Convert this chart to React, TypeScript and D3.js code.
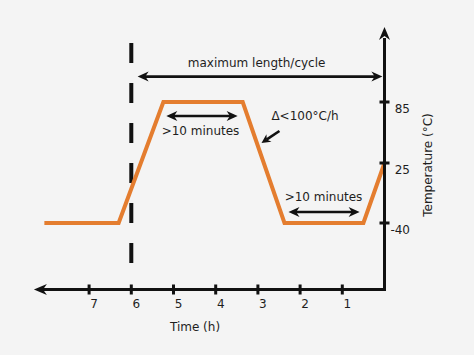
import React from "react";
import * as d3 from "d3";

const timeTicks = [7, 6, 5, 4, 3, 2, 1];
const tempTicks = [85, 25, -40];
const profileTime = [8.06, 6.3, 5.24, 3.36, 2.37, 0.5, 0];
const profileTemp = [-40, -40, 85, 85, -40, -40, 25];

const W = 474;
const H = 355;
const FONT = "DejaVu Sans, Verdana, sans-serif";
const ORANGE = "#e47d2f";
const INK = "#111";
const TEXT = "#1e1e1e";

function head(x: number, y: number, angleDeg: number, len = 11, half = 5) {
  // tip at (x,y), pointing along angle
  const a = (angleDeg * Math.PI) / 180;
  const c = Math.cos(a), s = Math.sin(a);
  const pt = (u: number, v: number) => [x + u * c - v * s, y + u * s + v * c];
  const p1 = pt(0, 0), p2 = pt(-len, -half), p3 = pt(-len * 0.7, 0), p4 = pt(-len, half);
  return `M${p1[0]},${p1[1]}L${p2[0]},${p2[1]}L${p3[0]},${p3[1]}L${p4[0]},${p4[1]}Z`;
}

export default function App() {
  const x = d3.scaleLinear().domain([0, 8]).range([384.5, 384.5 - 8 * 42.2]);
  const y = d3.scaleLinear().domain([-40, 25, 85]).range([223, 163, 102]);
  const xAxisY = 289.5;
  const yAxisX = x(0);

  const pts: [number, number][] = profileTime.map((t, i) => [t, profileTemp[i]]);
  const line = d3.line<[number, number]>().x((d) => x(d[0])).y((d) => y(d[1]));

  const hArrow = (t0: number, t1: number, temp: number, both = true) => {
    const x0 = x(t0), x1 = x(t1), yy = y(temp);
    return (
      <g>
        <line x1={x0 + 4} x2={x1 - 4} y1={yy} y2={yy} stroke={INK} strokeWidth={2.6} />
        <path d={head(x1, yy, 0)} fill={INK} />
        {both && <path d={head(x0, yy, 180)} fill={INK} />}
      </g>
    );
  };

  const dTail = [x(2.49), y(56.5)];
  const dTip = [x(2.915), y(44.7)];
  const dAng = (Math.atan2(dTip[1] - dTail[1], dTip[0] - dTail[0]) * 180) / Math.PI;

  return (
    <div style={{ position: "fixed", left: 0, top: 0, width: W, height: H }}>
      <svg width={W} height={H} style={{ display: "block" }}>
        <rect width={W} height={H} fill="#f4f4f4" />

        {/* dashed vertical line at t=6 */}
        <line
          x1={x(6)}
          x2={x(6)}
          y1={y(143)}
          y2={y(-83.5)}
          stroke={INK}
          strokeWidth={4}
          strokeDasharray="20,20"
        />

        {/* profile */}
        <path d={line(pts) || ""} fill="none" stroke={ORANGE} strokeWidth={4} strokeLinejoin="miter" />

        {/* x axis */}
        <line x1={x(8) - 8} x2={yAxisX + 1.5} y1={xAxisY} y2={xAxisY} stroke={INK} strokeWidth={3} />
        <path d={head(x(8) - 13, xAxisY, 180, 13, 5.5)} fill={INK} />
        {timeTicks.map((t) => (
          <g key={t}>
            <line x1={x(t)} x2={x(t)} y1={xAxisY - 5} y2={xAxisY + 5} stroke={INK} strokeWidth={3} />
            <text x={x(t) + 5} y={307.5} textAnchor="middle" fontFamily={FONT} fontSize={12} fill={TEXT}>
              {t}
            </text>
          </g>
        ))}
        <text x={195} y={331} textAnchor="middle" fontFamily={FONT} fontSize={12} fill={TEXT}>
          Time (h)
        </text>

        {/* y axis */}
        <line x1={yAxisX} x2={yAxisX} y1={xAxisY + 1.5} y2={38} stroke={INK} strokeWidth={3} />
        <path d={head(yAxisX, 27, -90, 13, 5.5)} fill={INK} />
        {tempTicks.map((v) => (
          <g key={v}>
            <line x1={yAxisX - 5} x2={yAxisX + 5} y1={y(v)} y2={y(v)} stroke={INK} strokeWidth={3} />
            <text x={410} y={y(v) + 11} textAnchor="end" fontFamily={FONT} fontSize={12} fill={TEXT}>
              {v}
            </text>
          </g>
        ))}
        <text
          transform={`translate(432,165) rotate(-90)`}
          textAnchor="middle"
          fontFamily={FONT}
          fontSize={12}
          fill={TEXT}
        >
          Temperature (°C)
        </text>

        {/* annotations */}
        {hArrow(5.85, 0.05, 110)}
        <text x={x(3.03)} y={y(119.4)} textAnchor="middle" fontFamily={FONT} fontSize={12} fill={TEXT}>
          maximum length/cycle
        </text>

        {hArrow(5.17, 3.48, 71.2)}
        <text x={x(4.36)} y={y(53)} textAnchor="middle" fontFamily={FONT} fontSize={12} fill={TEXT}>
          &gt;10 minutes
        </text>

        {hArrow(2.275, 0.59, -28.1)}
        <text x={x(1.445)} y={y(-16.7)} textAnchor="middle" fontFamily={FONT} fontSize={12} fill={TEXT}>
          &gt;10 minutes
        </text>

        <text x={x(2.68)} y={y(67.3)} textAnchor="start" fontFamily={FONT} fontSize={12} fill={TEXT}>
          Δ&lt;100°C/h
        </text>
        <line x1={dTail[0]} y1={dTail[1]} x2={dTip[0] + 5} y2={dTip[1] - 3.3} stroke={INK} strokeWidth={2.6} />
        <path d={head(dTip[0], dTip[1], dAng, 9, 4.5)} fill={INK} />
      </svg>
    </div>
  );
}
